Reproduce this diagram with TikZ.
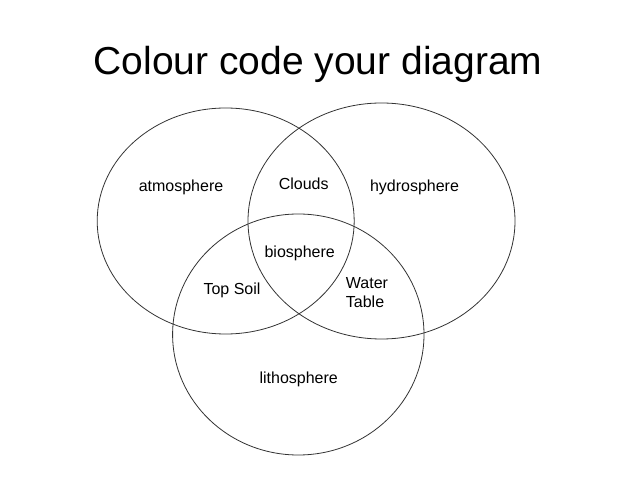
\documentclass[tikz,border=0pt]{standalone}
\usepackage{fontspec}
\setmainfont{Liberation Sans}
\begin{document}
\begin{tikzpicture}[x=1pt,y=-1pt,
  ring/.style={draw=black!80, line width=0.8pt},
  lbl/.style={font=\fontsize{16}{19}\selectfont, inner sep=0pt, text=black}]
\useasboundingbox (0,0) rectangle (638,478);
\node[font=\fontsize{39}{45}\selectfont, inner sep=0pt, anchor=base] (title) at (318,75) {Colour code your diagram};
\draw[ring] (225.7,221) ellipse [x radius=128.5, y radius=113];
\draw[ring] (381.5,221) ellipse [x radius=133.5, y radius=118];
\draw[ring] (298.3,334.5) ellipse [x radius=125.7, y radius=120.5];
\node[lbl] (atm) at (181,187) {atmosphere};
\node[lbl] (clouds) at (303.7,184) {Clouds};
\node[lbl] (hyd) at (414.5,187) {hydrosphere};
\node[lbl] (bio) at (299.7,253) {biosphere};
\node[lbl] (soil) at (232,290) {Top Soil};
\node[lbl, align=left, anchor=west] (water) at (345.7,292.5) {Water\\Table};
\node[lbl] (lith) at (298.7,379) {lithosphere};
\end{tikzpicture}
\end{document}
